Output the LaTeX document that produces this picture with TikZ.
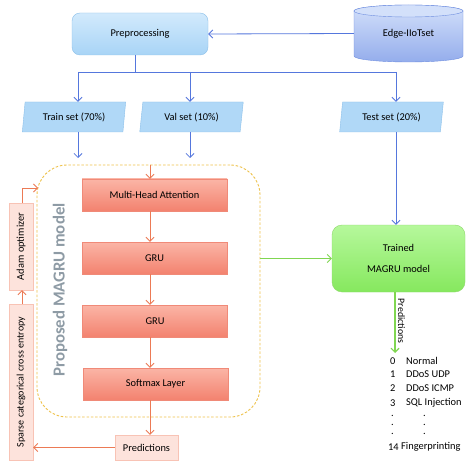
\documentclass[tikz,border=0pt]{standalone}
\usepackage{fontspec}
\setmainfont{Carlito}
\usetikzlibrary{shapes.geometric,arrows.meta}
\definecolor{bbord}{HTML}{8CC0EA}
\definecolor{btop}{HTML}{D2EAFC}
\definecolor{bbot}{HTML}{A8D4F6}
\definecolor{barr}{HTML}{5577DD}
\definecolor{cylbord}{HTML}{6F8EE0}
\definecolor{cyltop}{HTML}{D3E0FA}
\definecolor{cylbot}{HTML}{94ADEC}
\definecolor{otop}{HTML}{FBB5A6}
\definecolor{obot}{HTML}{F3826F}
\definecolor{obord}{HTML}{F08A78}
\definecolor{oarr}{HTML}{EC7A55}
\definecolor{pfill}{HTML}{FDE3DC}
\definecolor{pbord}{HTML}{F8C3B5}
\definecolor{dashc}{HTML}{EEC24A}
\definecolor{gtop}{HTML}{B6F89C}
\definecolor{gbot}{HTML}{86E85E}
\definecolor{gbord}{HTML}{8ED86B}
\definecolor{garr}{HTML}{80D651}
\definecolor{graytxt}{HTML}{8E9BA5}
\begin{document}
\begin{tikzpicture}[x=1pt,y=-1pt,
  txt/.style={font=\fontsize{10.4}{12}\selectfont},
  bluebox/.style={txt,draw=bbord,top color=btop,bottom color=bbot,rounded corners=8pt,minimum width=136pt,minimum height=42pt,inner sep=0pt},
  setbox/.style={txt,draw=bbord,fill=bbot!80!btop,trapezium,trapezium left angle=79,trapezium right angle=101,trapezium stretches=true,minimum width=104pt,minimum height=30pt,inner sep=0pt},
  layerbox/.style={txt,draw=obord,top color=otop,bottom color=obot,minimum width=145pt,minimum height=32pt,inner sep=0pt},
  pinkbox/.style={txt,draw=pbord,fill=pfill,inner sep=0pt},
  barrow/.style={draw=barr,line width=0.8pt,-{Straight Barb[length=4pt,width=8pt]}},
  bline/.style={draw=barr,line width=0.8pt},
  oarrow/.style={draw=oarr,line width=0.8pt,-{Straight Barb[length=4pt,width=8pt]}},
  garrow/.style={draw=garr,-{Straight Barb[length=4pt,width=8pt]}},
  listtxt/.style={txt,anchor=west,inner sep=0pt}
]
\useasboundingbox (0,0) rectangle (474,468);
\fill[white] (0,0) rectangle (474,468);

% cylinder
\path[draw=cylbord,top color=cyltop,bottom color=cylbot]
  (354,11) -- (354,56) arc[start angle=180,end angle=360,x radius=54.5pt,y radius=6pt]
  -- (463,11) arc[start angle=0,end angle=180,x radius=54.5pt,y radius=6pt] -- cycle;
\draw[cylbord,fill=cyltop] (408.5,11) ellipse[x radius=54.5pt,y radius=6pt];
\node[txt,minimum width=109pt,minimum height=58pt,inner sep=0pt] (edge) at (408.5,33.5) {Edge-IIoTset};

\node[bluebox] (pre) at (140,34) {Preprocessing};
\draw[barrow] (edge.west) -- (pre.east);

\node[setbox] (train) at (74,117) {Train set (70\%)};
\node[setbox] (val) at (191.5,117) {Val set (10\%)};
\node[setbox] (test) at (391.5,117) {Test set (20\%)};

\coordinate (sp) at (135,72);
\coordinate (spl) at (78,72);
\coordinate (spv) at (190,72);
\coordinate (spr) at (396,72);
\draw[bline] (pre.south -| sp) -- (sp);
\draw[bline] (spl) -- (spr);
\draw[barrow] (spl) -- (train.north -| spl);
\draw[barrow] (spv) -- (val.north -| spv);
\draw[barrow] (spr) -- (test.north -| spr);

% model
\node[draw=dashc,line width=0.9pt,dash pattern=on 2.5pt off 1.8pt,rounded corners=30pt,minimum width=223pt,minimum height=252pt] (model) at (148.5,291) {};
\node[font=\fontsize{16.8}{20}\selectfont\bfseries,text=graytxt,rotate=90] (title) at (60,290) {Proposed MAGRU model};

\coordinate (t1) at (78,158);
\coordinate (v1) at (190,158);
\draw[barrow] (train.south -| t1) -- (t1);
\draw[barrow] (val.south -| v1) -- (v1);

\node[layerbox] (mha) at (154.5,195) {Multi-Head Attention};
\node[layerbox] (gru1) at (154.5,258) {GRU};
\node[layerbox] (gru2) at (155,321) {GRU};
\node[layerbox] (soft) at (155.5,384) {Softmax Layer};
\node[pinkbox,minimum width=63pt,minimum height=25pt] (pred) at (146.5,447.5) {Predictions};

\coordinate (ox) at (150,0);
\draw[oarrow] (model.north -| ox) -- (mha.north -| ox);
\draw[oarrow] (mha.south -| ox) -- (gru1.north -| ox);
\draw[oarrow] (gru1.south -| ox) -- (gru2.north -| ox);
\draw[oarrow] (gru2.south -| ox) -- (soft.north -| ox);
\draw[oarrow] (soft.south -| ox) -- (pred.north -| ox);

\node[pinkbox,minimum width=24pt,minimum height=156pt] (sparse) at (21,382) {};
\node[txt,rotate=90,font=\fontsize{10}{12}\selectfont] at (sparse.center) {Sparse categorical cross entropy};
\node[pinkbox,minimum width=24pt,minimum height=87pt] (adam) at (21,246.5) {};
\node[txt,rotate=90] at (adam.center) {Adam optimizer};

\coordinate (lx) at (22,0);
\coordinate (inm) at (38,188);
\draw[oarrow] (pred.west) -- (pred.west -| sparse.east);
\draw[oarrow] (sparse.north -| lx) -- (adam.south -| lx);
\draw[oarrow] (adam.north -| lx) |- (inm);

% trained
\node[txt,draw=gbord,top color=gtop,bottom color=gbot,rounded corners=10pt,minimum width=133pt,minimum height=67pt,align=center,inner sep=0pt] (trained) at (398.5,258.5) {Trained\\[9pt]MAGRU model};
\coordinate (tx) at (396,0);
\draw[barrow] (test.south -| tx) -- (trained.north -| tx);
\draw[garrow,line width=0.8pt] (trained.west -| model.east) -- (trained.west);

\coordinate (pend) at (395,353);
\draw[garrow,line width=1.1pt] (trained.south -| pend) -- (pend);
\node[txt,rotate=-90,font=\fontsize{9.8}{11}\selectfont,inner sep=0pt] (plab) at (401.5,321) {Predictions};

\node[listtxt] (n0) at (390,361) {0};
\node[listtxt] (c0) at (406,361) {Normal};
\node[listtxt] (n1) at (390,374.5) {1};
\node[listtxt] (c1) at (406,374.5) {DDoS UDP};
\node[listtxt] (n2) at (390,388.5) {2};
\node[listtxt] (c2) at (406,388.5) {DDoS ICMP};
\node[listtxt] (n3) at (390,403) {3};
\node[listtxt] (c3) at (406,403) {SQL Injection};
\node[listtxt] (d1) at (391,416) {.};
\node[listtxt] (d2) at (391,425) {.};
\node[listtxt] (d3) at (391,434) {.};
\node[listtxt] (e1) at (423,416) {.};
\node[listtxt] (e2) at (423,425) {.};
\node[listtxt] (e3) at (423,434) {.};
\node[listtxt] (n14) at (388,447) {14};
\node[listtxt] (c14) at (401,447) {Fingerprinting};
\end{tikzpicture}
\end{document}
